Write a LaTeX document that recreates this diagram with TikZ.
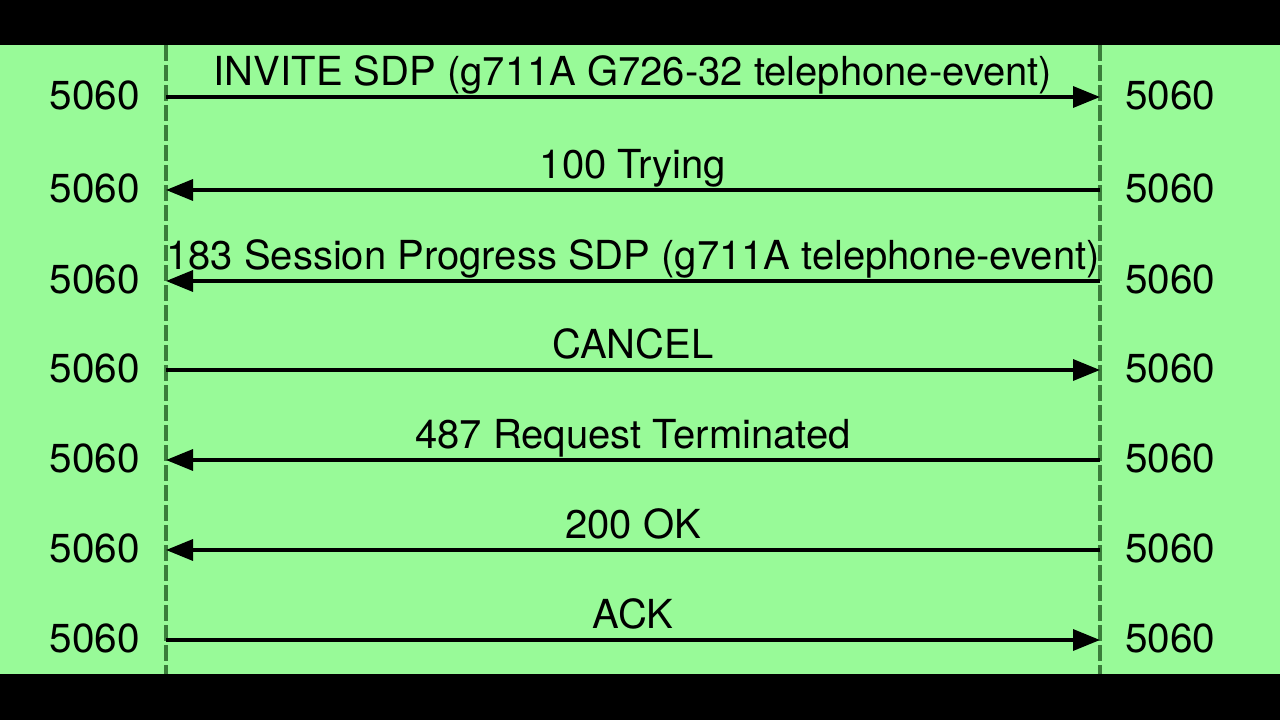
\documentclass[tikz,border=0pt]{standalone}
\usepackage{fontspec}
\setmainfont{TeX Gyre Heros}
\usetikzlibrary{arrows.meta}
\definecolor{bggreen}{RGB}{152,250,152}
\definecolor{lifegreen}{RGB}{58,125,58}
\tikzset{
  msg/.style={line width=3.4pt, -{Triangle[length=27pt,width=21pt]}},
  lifeline/.style={lifegreen, line width=3.4pt, dash pattern=on 16pt off 4pt},
  msglabel/.style={anchor=base, inner sep=0pt, font=\fontsize{40}{48}\selectfont},
  portl/.style={anchor=base east, inner sep=0pt, font=\fontsize{40.5}{48}\selectfont},
  portr/.style={anchor=base west, inner sep=0pt, font=\fontsize{40.5}{48}\selectfont},
}
\begin{document}
\begin{tikzpicture}[x=1pt,y=-1pt]
\useasboundingbox (0,0) rectangle (1280,720);
\fill[black] (0,0) rectangle (1280,720);
\fill[bggreen] (0,45) rectangle (1280,674);
\coordinate (LT) at (166,45);
\coordinate (LB) at (166,674);
\coordinate (RT) at (1100,45);
\coordinate (RB) at (1100,674);
\draw[lifeline] (LT) -- (LB);
\draw[lifeline] (RT) -- (RB);
\foreach \i/\y in {1/97,2/190,3/281,4/370,5/460,6/550,7/640}{
  \coordinate (L\i) at (166,\y);
  \coordinate (R\i) at (1100,\y);
  \node[portl] (pl\i) at (140,\y+12) {5060};
  \node[portr] (pr\i) at (1125,\y+12) {5060};
}
\draw[msg] (L1) -- (R1) node[msglabel, pos=0.5, yshift=12pt] (m1) {INVITE SDP (g711A G726-32 telephone-event)};
\draw[msg] (R2) -- (L2) node[msglabel, pos=0.5, yshift=12pt] (m2) {100 Trying};
\draw[msg] (R3) -- (L3) node[msglabel, pos=0.5, yshift=12pt] (m3) {183 Session Progress SDP (g711A telephone-event)};
\draw[msg] (L4) -- (R4) node[msglabel, pos=0.5, yshift=12pt] (m4) {CANCEL};
\draw[msg] (R5) -- (L5) node[msglabel, pos=0.5, yshift=12pt] (m5) {487 Request Terminated};
\draw[msg] (R6) -- (L6) node[msglabel, pos=0.5, yshift=12pt] (m6) {200 OK};
\draw[msg] (L7) -- (R7) node[msglabel, pos=0.5, yshift=12pt] (m7) {ACK};
\end{tikzpicture}
\end{document}
